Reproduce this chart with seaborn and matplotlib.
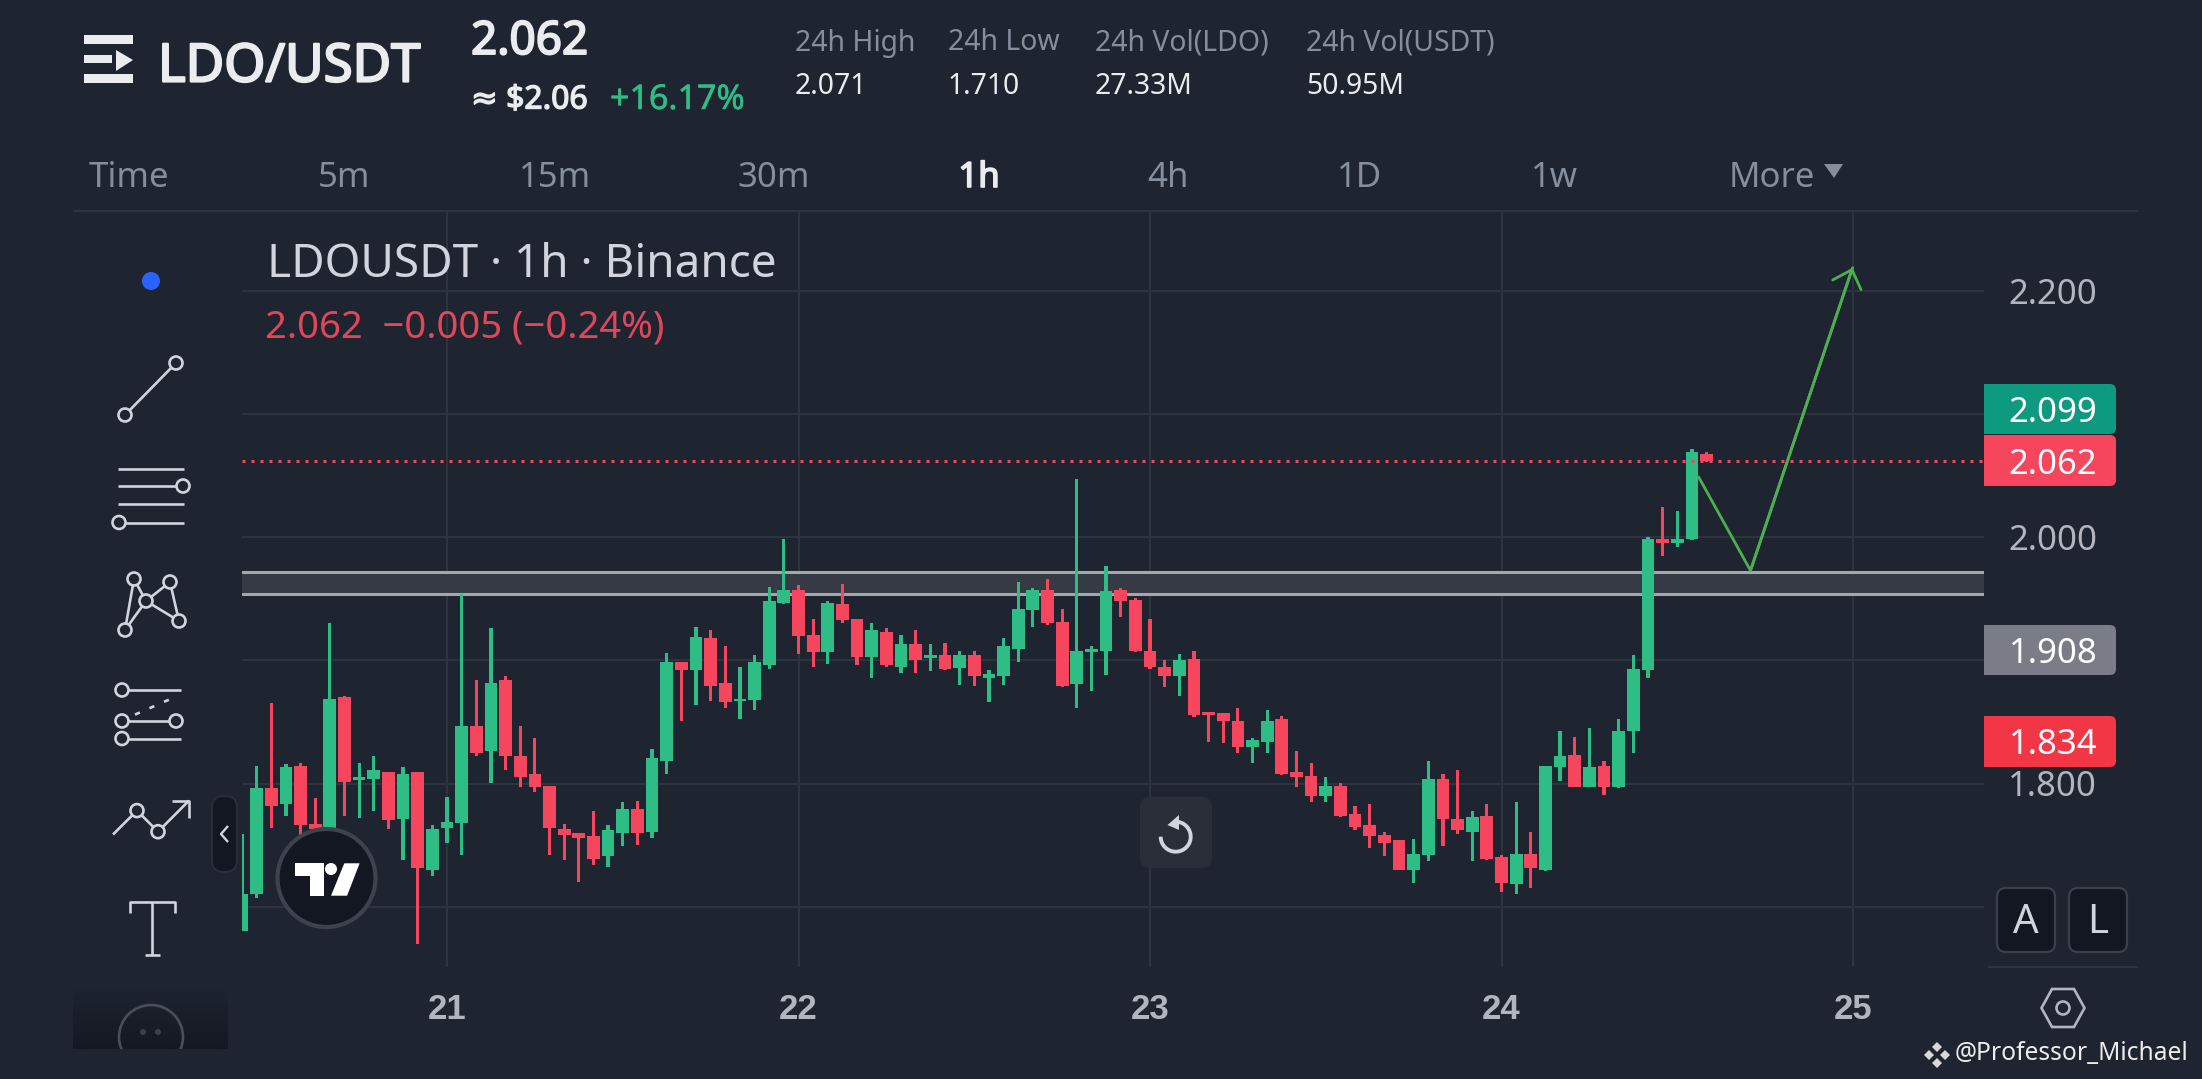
import numpy as np
import pandas as pd
import matplotlib
matplotlib.use("Agg")
import matplotlib.pyplot as plt
import matplotlib.patheffects as pe
from matplotlib.patches import Circle, FancyBboxPatch, Polygon, Rectangle
import seaborn as sns

W, H = 2202, 1079
BG = "#1e2530"
GRID = "#2e343f"
UP = "#2ebd85"
DOWN = "#f6465d"
ICON = "#d1d4dc"
MUTED = "#848e9c"

# hourly candles, hour 0 is the start of the 21st
hours = list(range(-14, 87))
opens = [
    1.680, 1.710, 1.796, 1.783, 1.814, 1.767, 1.751, 1.870, 1.803, 1.804, 1.809, 1.771, 1.809, 1.730,
    1.764, 1.768, 1.847, 1.826, 1.884, 1.822, 1.808, 1.798, 1.763, 1.760, 1.757, 1.741, 1.760, 1.779,
    1.761, 1.818, 1.899, 1.892, 1.918, 1.882, 1.867, 1.868, 1.896, 1.947,
    1.957, 1.921, 1.907, 1.946, 1.934, 1.903, 1.923, 1.895, 1.913, 1.902, 1.904, 1.894, 1.904, 1.886,
    1.887, 1.909, 1.941, 1.957, 1.931, 1.881, 1.907, 1.908, 1.957, 1.949,
    1.908, 1.895, 1.887, 1.901, 1.858, 1.857, 1.851, 1.830, 1.834, 1.852, 1.809, 1.806, 1.790,
    1.798, 1.775, 1.766, 1.758, 1.754, 1.730, 1.742, 1.804, 1.771, 1.761, 1.774, 1.740, 1.718, 1.743,
    1.730, 1.813, 1.823, 1.797, 1.814, 1.797, 1.843, 1.892, 1.999, 1.995, 1.999, 2.068,
]
highs = [
    1.759, 1.814, 1.865, 1.816, 1.817, 1.788, 1.930, 1.871, 1.817, 1.822, 1.809, 1.813, 1.809, 1.766,
    1.789, 1.954, 1.884, 1.926, 1.887, 1.847, 1.837, 1.798, 1.767, 1.760, 1.778, 1.766, 1.785, 1.786,
    1.828, 1.906, 1.899, 1.927, 1.925, 1.912, 1.895, 1.904, 1.960, 1.999,
    1.961, 1.934, 1.948, 1.962, 1.934, 1.930, 1.926, 1.921, 1.925, 1.913, 1.914, 1.908, 1.908, 1.892,
    1.918, 1.964, 1.959, 1.966, 1.942, 2.047, 1.912, 1.977, 1.959, 1.951,
    1.934, 1.900, 1.905, 1.908, 1.858, 1.857, 1.861, 1.837, 1.860, 1.855, 1.826, 1.817, 1.805,
    1.800, 1.782, 1.783, 1.761, 1.754, 1.755, 1.818, 1.808, 1.811, 1.778, 1.783, 1.742, 1.785, 1.761,
    1.814, 1.843, 1.838, 1.845, 1.818, 1.852, 1.904, 2.000, 2.025, 2.021, 2.072, 2.069,
]
lows = [
    1.680, 1.707, 1.764, 1.774, 1.758, 1.759, 1.746, 1.774, 1.772, 1.778, 1.763, 1.738, 1.670, 1.725,
    1.752, 1.742, 1.822, 1.800, 1.811, 1.797, 1.793, 1.742, 1.738, 1.720, 1.734, 1.732, 1.749, 1.750,
    1.756, 1.808, 1.851, 1.864, 1.867, 1.861, 1.852, 1.860, 1.893, 1.946,
    1.905, 1.895, 1.897, 1.930, 1.896, 1.886, 1.895, 1.890, 1.890, 1.891, 1.892, 1.880, 1.879, 1.866,
    1.880, 1.899, 1.927, 1.929, 1.878, 1.861, 1.875, 1.888, 1.935, 1.907,
    1.893, 1.878, 1.871, 1.854, 1.834, 1.833, 1.825, 1.817, 1.825, 1.807, 1.797, 1.785, 1.785,
    1.773, 1.762, 1.748, 1.741, 1.730, 1.719, 1.737, 1.749, 1.759, 1.737, 1.738, 1.712, 1.710, 1.715,
    1.729, 1.802, 1.797, 1.797, 1.791, 1.796, 1.825, 1.886, 1.985, 1.992, 1.998, 2.061,
]
closes = [
    1.710, 1.796, 1.782, 1.813, 1.766, 1.763, 1.869, 1.801, 1.805, 1.811, 1.770, 1.808, 1.731, 1.763,
    1.769, 1.847, 1.825, 1.882, 1.822, 1.805, 1.797, 1.764, 1.758, 1.756, 1.739, 1.762, 1.779, 1.760,
    1.821, 1.899, 1.892, 1.919, 1.879, 1.866, 1.869, 1.899, 1.948, 1.957,
    1.920, 1.907, 1.947, 1.933, 1.903, 1.925, 1.896, 1.913, 1.900, 1.904, 1.893, 1.904, 1.887, 1.889,
    1.912, 1.942, 1.957, 1.930, 1.879, 1.908, 1.909, 1.956, 1.948, 1.908,
    1.895, 1.887, 1.900, 1.856, 1.856, 1.851, 1.830, 1.835, 1.851, 1.808, 1.805, 1.790, 1.798,
    1.774, 1.765, 1.757, 1.752, 1.730, 1.743, 1.804, 1.771, 1.762, 1.773, 1.739, 1.719, 1.743, 1.731,
    1.814, 1.822, 1.797, 1.813, 1.797, 1.843, 1.893, 1.999, 1.995, 1.999, 2.069, 2.062,
]

# drawn on the chart
zone_top = 1.9715
zone_bottom = 1.954
last_price = 2.0623
path_hours = [85.46, 89.0, 95.97]
path_prices = [2.049, 1.973, 2.219]

price_ticks = [1.7, 1.8, 1.9, 2.0, 2.1, 2.2]
price_labels = ["", "1.800", "", "2.000", "", "2.200"]
day_ticks = [0, 24, 48, 72, 96]
day_labels = ["21", "22", "23", "24", "25"]

sns.set_theme(style="dark", rc={"axes.facecolor": BG, "figure.facecolor": BG, "savefig.facecolor": BG})
plt.rcParams["font.family"] = ["Noto Sans", "DejaVu Sans"]

df = pd.DataFrame({"hour": hours, "open": opens, "high": highs, "low": lows, "close": closes})
df["up"] = df["close"] >= df["open"]
df["top"] = df[["open", "close"]].max(axis=1)
df["bottom"] = df[["open", "close"]].min(axis=1)

fig = plt.figure(figsize=(W / 100, H / 100), dpi=100)
left, right, top, bottom = 241.5, 1984, 211, 966.7
ax = fig.add_axes([left / W, 1 - bottom / H, (right - left) / W, (bottom - top) / H])

# zone and grid under the candles
ax.axhspan(zone_bottom, zone_top, color="#363a45", lw=0, zorder=1)
ax.axhline(zone_top, color="#a3a6ad", lw=2.2, zorder=2)
ax.axhline(zone_bottom, color="#a3a6ad", lw=2.2, zorder=2)

# wicks then bodies, one pass per colour
for is_up, colour in [(True, UP), (False, DOWN)]:
    part = df[df["up"] == is_up]
    sns.barplot(x=part["hour"], y=part["high"] - part["low"], bottom=part["low"].values, native_scale=True,
                width=0.22, color=colour, saturation=1, errorbar=None, linewidth=0, zorder=3, ax=ax)
    sns.barplot(x=part["hour"], y=part["top"] - part["bottom"], bottom=part["bottom"].values, native_scale=True,
                width=0.87, color=colour, saturation=1, errorbar=None, linewidth=0, zorder=3, ax=ax)

ax.axhline(last_price, color=DOWN, lw=2.16, ls=(0, (1, 2)), zorder=4)

sns.lineplot(x=path_hours, y=path_prices, color="#4caf50", lw=2.0, sort=False, errorbar=None, zorder=5, ax=ax)
ax.annotate("", xy=(path_hours[2], path_prices[2]), xytext=(path_hours[1], path_prices[1]),
            arrowprops=dict(arrowstyle="->,head_length=0.46,head_width=0.43", color="#4caf50", lw=2.0,
                            mutation_scale=25, shrinkA=0, shrinkB=0), zorder=5)

ax.set_xlim((left - 447) / 14.646, (right - 447) / 14.646)
ax.set_ylim(2 - (bottom - 537.3) / 1231, 2 - (top - 537.3) / 1231)
ax.set_xlabel("")
ax.set_ylabel("")
ax.set_xticks(day_ticks)
ax.set_xticklabels(day_labels, fontsize=25, fontweight="bold", family="Liberation Sans", color="#b2b5be")
ax.set_yticks(price_ticks)
ax.set_yticklabels(price_labels, fontsize=25, color="#b2b5be")
ax.yaxis.tick_right()
ax.tick_params(axis="x", length=0, pad=19)
ax.tick_params(axis="y", length=0, pad=17.5)
ax.grid(True, color=GRID, lw=1.5, zorder=0)
ax.set_axisbelow(True)
for spine in ax.spines.values():
    spine.set_visible(False)

# app chrome goes on a pixel overlay
ui = fig.add_axes([0, 0, 1, 1], zorder=10)
ui.set_xlim(0, W)
ui.set_ylim(H, 0)
ui.axis("off")
ui.patch.set_alpha(0)


def txt(x, y, s, size, colour=ICON, ha="left", heavy=0):
    t = ui.text(x, y, s, fontsize=size, color=colour, ha=ha, va="center")
    if heavy:
        # Noto Sans here has one weight, thicken with a stroke
        t.set_path_effects([pe.withStroke(linewidth=heavy, foreground=colour)])


def line(xs, ys, colour=ICON, lw=1.9, **kw):
    ui.plot(xs, ys, color=colour, lw=lw, solid_capstyle="butt", **kw)


def ring(x, y, r=6.5, colour=ICON, lw=1.9):
    ui.add_patch(Circle((x, y), r, facecolor=BG, edgecolor=colour, lw=lw, zorder=4))


def box(x0, y0, x1, y1, r, face, edge="none", lw=0):
    ui.add_patch(FancyBboxPatch((x0 + r, y0 + r), x1 - x0 - 2 * r, y1 - y0 - 2 * r,
                                boxstyle=f"round,pad={r},rounding_size={r}", facecolor=face, edgecolor=edge, lw=lw))


# header
ui.add_patch(Rectangle((84, 35), 49, 9, color="#eaecef", lw=0))
ui.add_patch(Rectangle((84, 55), 28, 8, color="#eaecef", lw=0))
ui.add_patch(Rectangle((84, 74), 49, 9, color="#eaecef", lw=0))
ui.add_patch(Polygon([(116, 50), (133, 60), (116, 71)], color="#eaecef", lw=0))
txt(158, 68, "LDO/USDT", 38, "#eaecef", heavy=1.6)
txt(471, 42, "2.062", 33, "#eaecef", heavy=1.4)
txt(471, 100, "≈ $2.06", 23, "#eaecef", heavy=1.0)
txt(610, 100, "+16.17%", 24.5, UP, heavy=0.4)
stat_x = [795, 948, 1095, 1306]
stat_names = ["24h High", "24h Low", "24h Vol(LDO)", "24h Vol(USDT)"]
stat_vals = ["2.071", "1.710", "27.33M", "50.95M"]
for x, name, val in zip(stat_x, stat_names, stat_vals):
    txt(x, 43, name, 20.4, MUTED)
    txt(x, 86, val, 20.4, "#eaecef")

# timeframes
tf_x = [129, 344, 555, 774, 979, 1168, 1360, 1554]
tf_names = ["Time", "5m", "15m", "30m", "1h", "4h", "1D", "1w"]
for x, name in zip(tf_x, tf_names):
    if name == "1h":
        txt(x, 178, name, 25, "#eaecef", ha="center", heavy=1.2)
    else:
        txt(x, 178, name, 25, MUTED, ha="center")
txt(1729, 178, "More", 25, MUTED)
ui.add_patch(Polygon([(1824, 164), (1843, 164), (1834, 178)], color=MUTED, lw=0))
line([73, 2138], [211, 211], GRID, 1.5)
line([1988, 2138], [966.7, 966.7], GRID, 1.5)

# chart legend
txt(267, 265, "LDOUSDT · 1h · Binance", 33, "#d1d4dc")
txt(265, 327, "2.062  −0.005 (−0.24%)", 27.5, "#e0475a")
ui.add_patch(Circle((151, 281), 9, color="#2962ff", lw=0))

# left toolbar
line([125, 176], [415, 363])
ring(125, 415)
ring(176, 363)
for y in [468.6, 486, 504, 522.5]:
    line([118, 184], [y, y])
ring(183, 486)
ring(119, 522.5)
line([125, 134, 146, 170, 179, 146, 125], [630, 579, 601, 582, 621, 601, 630])
for x, y in [(134, 579), (170, 582), (146, 601), (179, 621), (125, 630)]:
    ring(x, y)
line([122, 181], [690, 690])
line([135, 175], [714.6, 697], ls=(0, (2, 4)))
line([122, 176], [721, 721])
line([122, 181], [738.5, 738.5])
for x, y in [(122, 690), (122, 721), (176, 721), (122, 738.5)]:
    ring(x, y)
line([113, 137, 158, 189], [834.5, 810.6, 831.7, 800.6])
line([172, 189, 189], [800.6, 800.6, 818])
ring(137, 810.6)
ring(158, 831.7)
line([130, 130, 175, 175], [913, 902, 902, 913])
line([152, 152], [902, 955])
line([145, 160], [955, 955])

# faded button at the bottom of the toolbar
fade = np.linspace(0, 1, 60).reshape(-1, 1)
fade_img = np.zeros((60, 1, 3))
for i, (a, b) in enumerate(zip((0x1e, 0x25, 0x30), (0x14, 0x18, 0x22))):
    fade_img[:, :, i] = (a + (b - a) * fade) / 255
ui.imshow(fade_img, extent=(73, 228, 1049, 987), aspect="auto", zorder=1)
ui.set_xlim(0, W)
ui.set_ylim(H, 0)
arc = Circle((151, 1037), 32, facecolor="none", edgecolor="#4a4e58", lw=1.9, zorder=2)
ui.add_patch(arc)
arc.set_clip_path(Rectangle((73, 987), 155, 62, transform=ui.transData))
ui.add_patch(Circle((143, 1032), 3, color="#3c404a", lw=0, zorder=2))
ui.add_patch(Circle((158, 1032), 3, color="#3c404a", lw=0, zorder=2))

# collapse pill
box(212, 796, 237, 872, 12, "#131722", "#2a2e39", 1.4)
line([228, 221, 228], [826, 834, 842], ICON, 1.7)

# tradingview badge
ui.add_patch(Circle((326.5, 878), 49, facecolor="#131722", edgecolor="#3e424d", lw=3))
ui.add_patch(Polygon([(295, 863.3), (323.6, 863.3), (323.6, 895.7), (310, 895.7), (310, 875.7), (295, 875.7)],
                     color="white", lw=0))
ui.add_patch(Circle((331, 869), 6, color="white", lw=0))
ui.add_patch(Polygon([(344.3, 863.3), (359.6, 863.3), (347.1, 895.7), (331, 895.7)], color="white", lw=0))

# reset button
box(1140, 797, 1212, 868, 10, "#2a2e39")
t = np.radians(np.linspace(85, -180, 60))
line(1175.7 + 15 * np.cos(t), 836.7 - 15 * np.sin(t), ICON, 2.8)
ui.add_patch(Polygon([(1179, 815), (1179, 830), (1167.5, 825)], color=ICON, lw=0))

# price tags, square on the chart side
tag_boxes = [(384, 434, "#0e9a7e", "2.099"), (435, 486, DOWN, "2.062"), (625, 675, "#7a7d88", "1.908"),
             (716, 767, "#f23645", "1.834")]
for y0, y1, colour, s in tag_boxes:
    box(1984, y0, 2116, y1, 6, colour)
    ui.add_patch(Rectangle((1984, y0), 20, y1 - y0, color=colour, lw=0))
    txt(2008.5, (y0 + y1) / 2 + 4, s, 25, "white")

# A / L buttons
box(1997, 888, 2055, 952, 9, "#131722", "#3b404b", 1.6)
box(2069, 888, 2127, 952, 9, "#131722", "#3b404b", 1.6)
txt(2026, 923, "A", 29, ICON, ha="center")
txt(2098, 923, "L", 29, ICON, ha="center")

# settings hexagon
ui.add_patch(Polygon([(2041.5, 1008), (2052, 989), (2074, 989), (2084.5, 1008), (2074, 1027), (2052, 1027)],
                     facecolor="none", edgecolor="#b2b5be", lw=1.9))
ui.add_patch(Circle((2063, 1008), 6.5, facecolor="none", edgecolor="#b2b5be", lw=1.9))

# watermark
for dx, dy in [(0, -8), (-8, 0), (8, 0), (0, 8)]:
    ui.add_patch(Polygon([(1937 + dx, 1055 + dy - 5), (1937 + dx + 5, 1055 + dy), (1937 + dx, 1055 + dy + 5),
                          (1937 + dx - 5, 1055 + dy)], color="#d8d8d8", lw=0))
txt(1955, 1054, "@Professor_Michael", 17.7, "#ececec")

fig.savefig("out.png", dpi=100)
